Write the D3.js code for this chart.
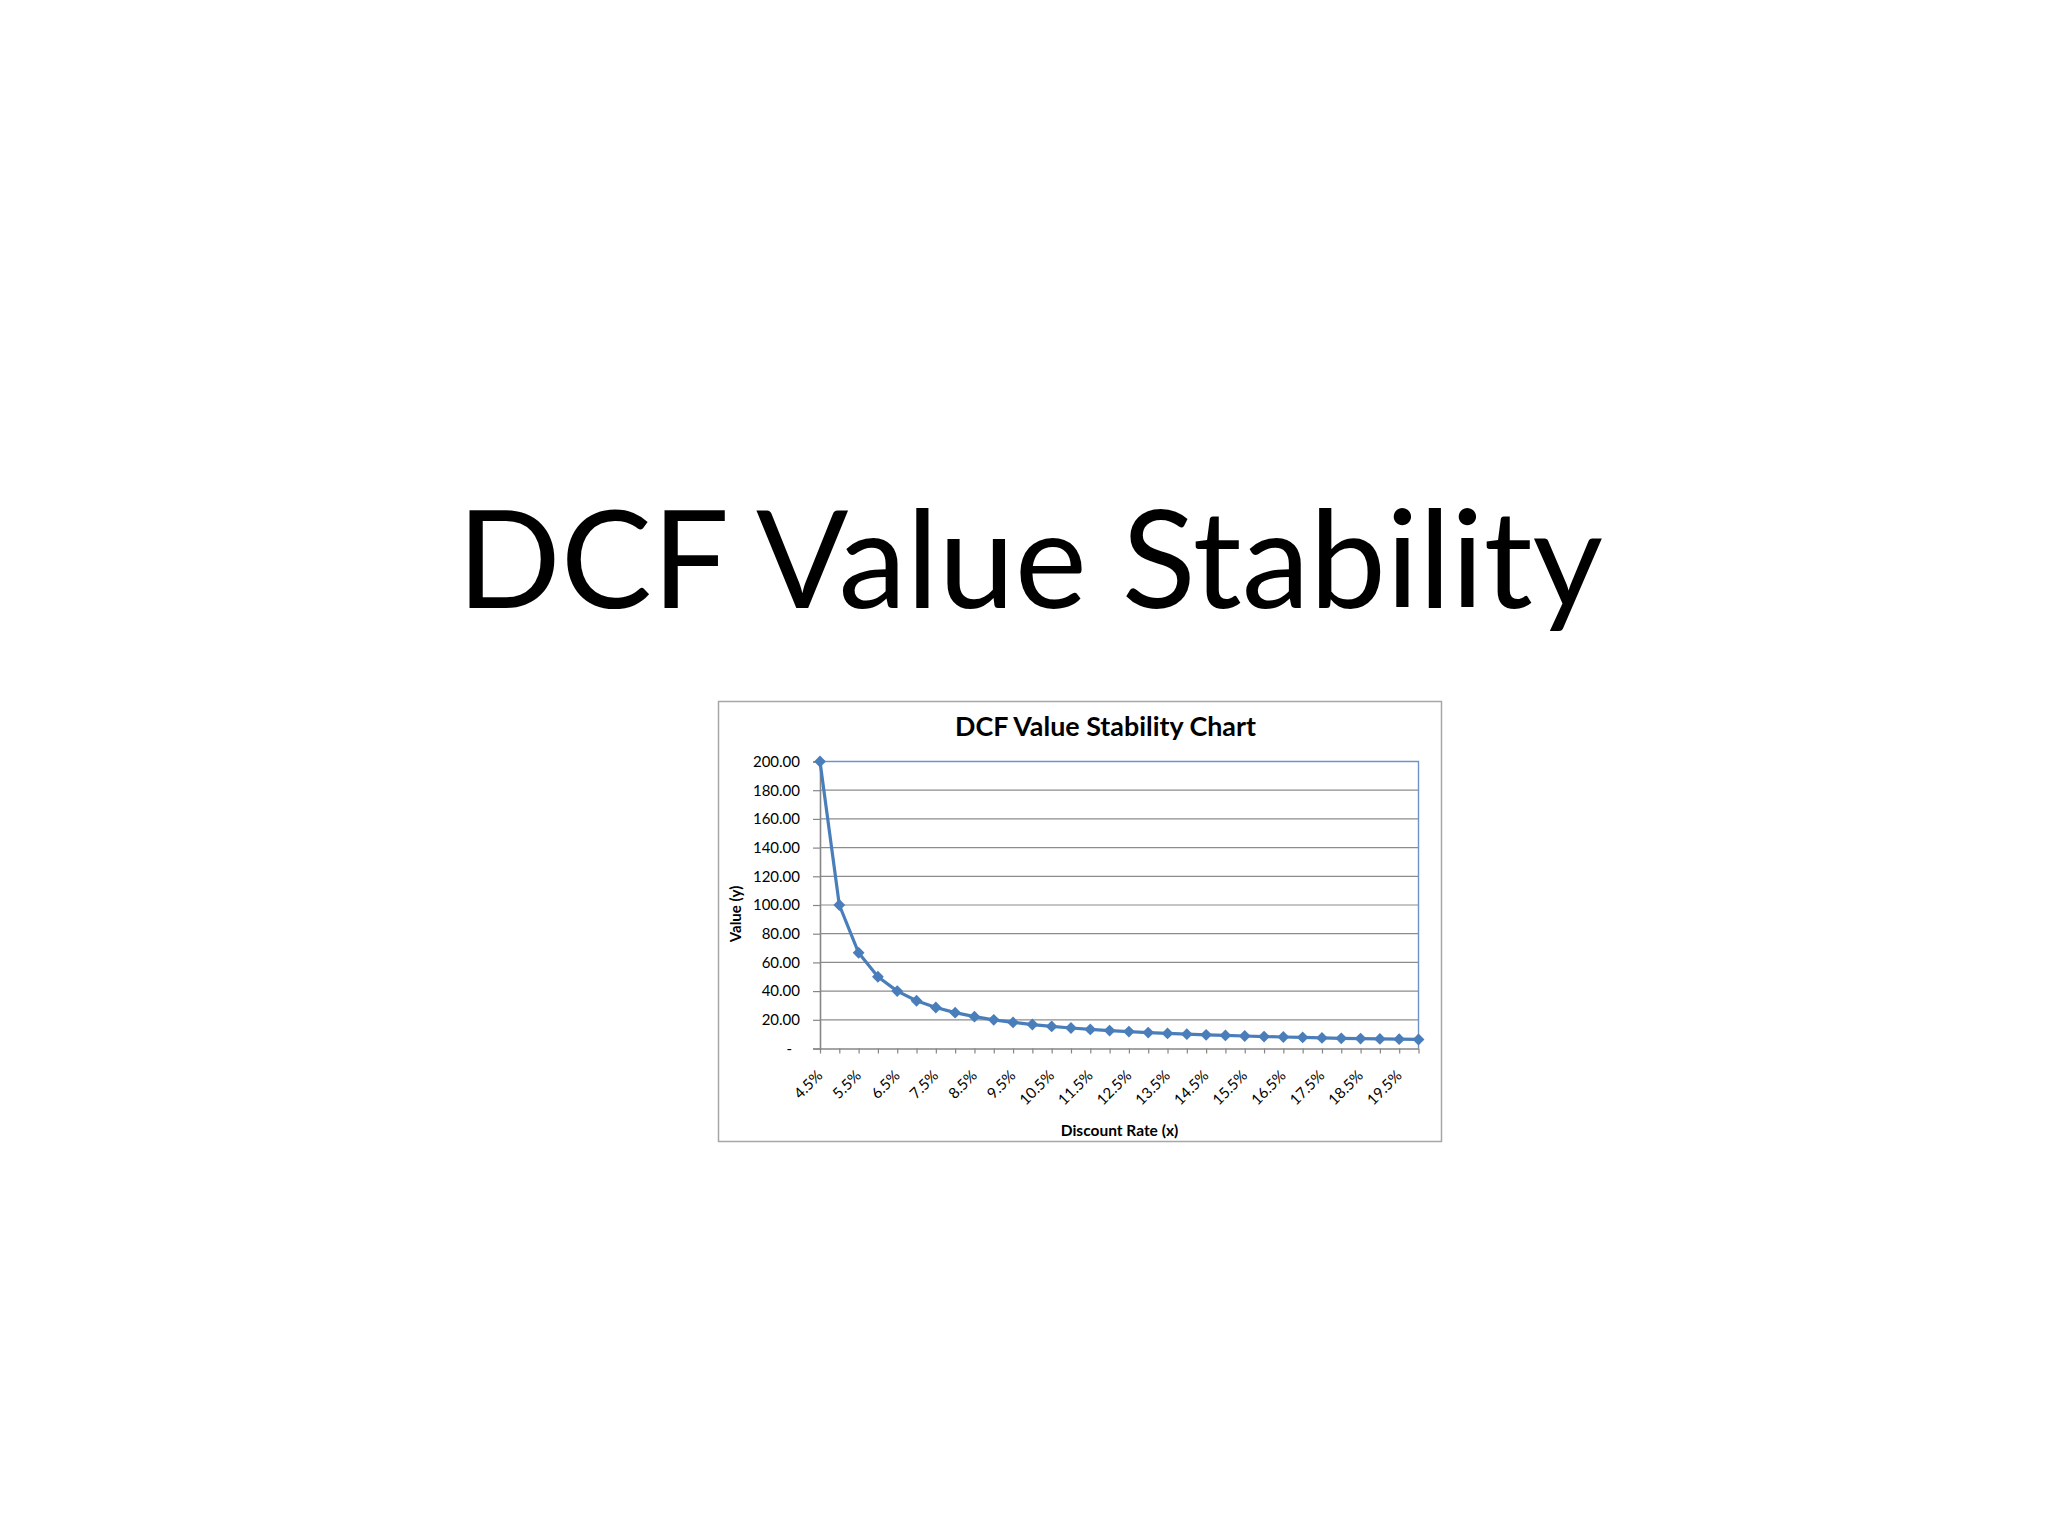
<!DOCTYPE html>
<html>
<head>
<meta charset="utf-8">
<script src="https://cdn.jsdelivr.net/npm/d3@7"></script>
<style>
  html, body { margin: 0; padding: 0; background: #fff; }
  svg text { font-family: Lato, "Open Sans", sans-serif; }
</style>
</head>
<body>
<div id="chart"></div>
<script>
const rates = ["4.5%", "5.0%", "5.5%", "6.0%", "6.5%", "7.0%", "7.5%", "8.0%", "8.5%", "9.0%",
  "9.5%", "10.0%", "10.5%", "11.0%", "11.5%", "12.0%", "12.5%", "13.0%", "13.5%", "14.0%",
  "14.5%", "15.0%", "15.5%", "16.0%", "16.5%", "17.0%", "17.5%", "18.0%", "18.5%", "19.0%",
  "19.5%", "20.0%"];
const values = [200, 100, 66.7, 50, 40, 33.3, 28.6, 25, 22.2, 20,
  18.2, 16.7, 15.4, 14.3, 13.3, 12.5, 11.8, 11.1, 10.5, 10,
  9.5, 9.1, 8.7, 8.3, 8, 7.7, 7.4, 7.1, 6.9, 6.7,
  6.5, 6.3];
const yTicks = [0, 20, 40, 60, 80, 100, 120, 140, 160, 180, 200];

const width = 2048;
const height = 1536;
const plot = { left: 820, right: 1418.5, top: 761.5, bottom: 1048.5 };

const svg = d3.select("#chart")
  .append("svg")
  .attr("width", width)
  .attr("height", height);

// slide title
svg.append("text")
  .attr("x", 1030)
  .attr("y", 608)
  .attr("text-anchor", "middle")
  .attr("font-size", 135)
  .attr("textLength", 1146)
  .attr("lengthAdjust", "spacingAndGlyphs")
  .attr("fill", "#000")
  .text("DCF Value Stability");

// chart frame
svg.append("rect")
  .attr("x", 718.5)
  .attr("y", 701.5)
  .attr("width", 723)
  .attr("height", 440)
  .attr("fill", "#fff")
  .attr("stroke", "#a6a6a6")
  .attr("stroke-width", 1.5);

svg.append("text")
  .attr("x", 1105.5)
  .attr("y", 736)
  .attr("text-anchor", "middle")
  .attr("font-size", 26)
  .attr("font-weight", "bold")
  .attr("textLength", 301)
  .attr("lengthAdjust", "spacingAndGlyphs")
  .text("DCF Value Stability Chart");

const x = d3.scalePoint()
  .domain(rates)
  .range([plot.left, plot.right]);

const y = d3.scaleLinear()
  .domain([0, 200])
  .range([plot.bottom, plot.top]);

// gridlines
svg.append("g")
  .selectAll("line")
  .data(yTicks.filter(d => d > 0 && d < 200))
  .join("line")
  .attr("x1", plot.left)
  .attr("x2", plot.right)
  .attr("y1", d => y(d))
  .attr("y2", d => y(d))
  .attr("stroke", "#8c8c8c")
  .attr("stroke-width", 1.2);

// plot area border (top and right show blue)
svg.append("path")
  .attr("d", `M${plot.left},${y(200)}H${plot.right}V${plot.bottom}`)
  .attr("fill", "none")
  .attr("stroke", "#6d93c9")
  .attr("stroke-width", 1.4);

const yAxis = svg.append("g")
  .attr("transform", `translate(${plot.left},0)`)
  .call(d3.axisLeft(y)
    .tickValues(yTicks)
    .tickSize(7)
    .tickPadding(13)
    .tickFormat(d => d === 0 ? "-" : d.toFixed(2)));

yAxis.select(".domain").attr("stroke", "#868686").attr("stroke-width", 1.6);
yAxis.selectAll(".tick line").attr("stroke", "#868686").attr("stroke-width", 1.2);
yAxis.selectAll(".tick text")
  .attr("font-size", 15)
  .attr("fill", "#000")
  .attr("dx", d => d === 0 ? -8 : 0);

const xAxis = svg.append("g")
  .attr("transform", `translate(0,${plot.bottom})`)
  .call(d3.axisBottom(x)
    .tickSize(5)
    .tickSizeOuter(0)
    .tickFormat((d, i) => i % 2 === 0 ? d : ""));

xAxis.select(".domain").attr("stroke", "#868686").attr("stroke-width", 1.6);
xAxis.selectAll(".tick line").attr("stroke", "#868686").attr("stroke-width", 1.2);
xAxis.selectAll(".tick text")
  .attr("font-size", 15)
  .attr("fill", "#000")
  .attr("text-anchor", "end")
  .attr("y", 0)
  .attr("dy", 0)
  .attr("transform", "translate(3,28) rotate(-45)");

// axis titles
svg.append("text")
  .attr("transform", "translate(741,914) rotate(-90)")
  .attr("text-anchor", "middle")
  .attr("font-size", 15)
  .attr("font-weight", "bold")
  .text("Value (y)");

svg.append("text")
  .attr("x", 1119.5)
  .attr("y", 1136)
  .attr("text-anchor", "middle")
  .attr("font-size", 15.5)
  .attr("font-weight", "bold")
  .text("Discount Rate (x)");

// series
const line = d3.line()
  .x((d, i) => x(rates[i]))
  .y(d => y(d));

svg.append("path")
  .datum(values)
  .attr("fill", "none")
  .attr("stroke", "#4a7ebb")
  .attr("stroke-width", 3.2)
  .attr("stroke-linejoin", "round")
  .attr("d", line);

svg.append("g")
  .selectAll("path")
  .data(values)
  .join("path")
  .attr("d", d3.symbol(d3.symbolSquare, 70))
  .attr("transform", (d, i) => `translate(${x(rates[i])},${y(d)}) rotate(45)`)
  .attr("fill", "#4a7ebb");
</script>
</body>
</html>
